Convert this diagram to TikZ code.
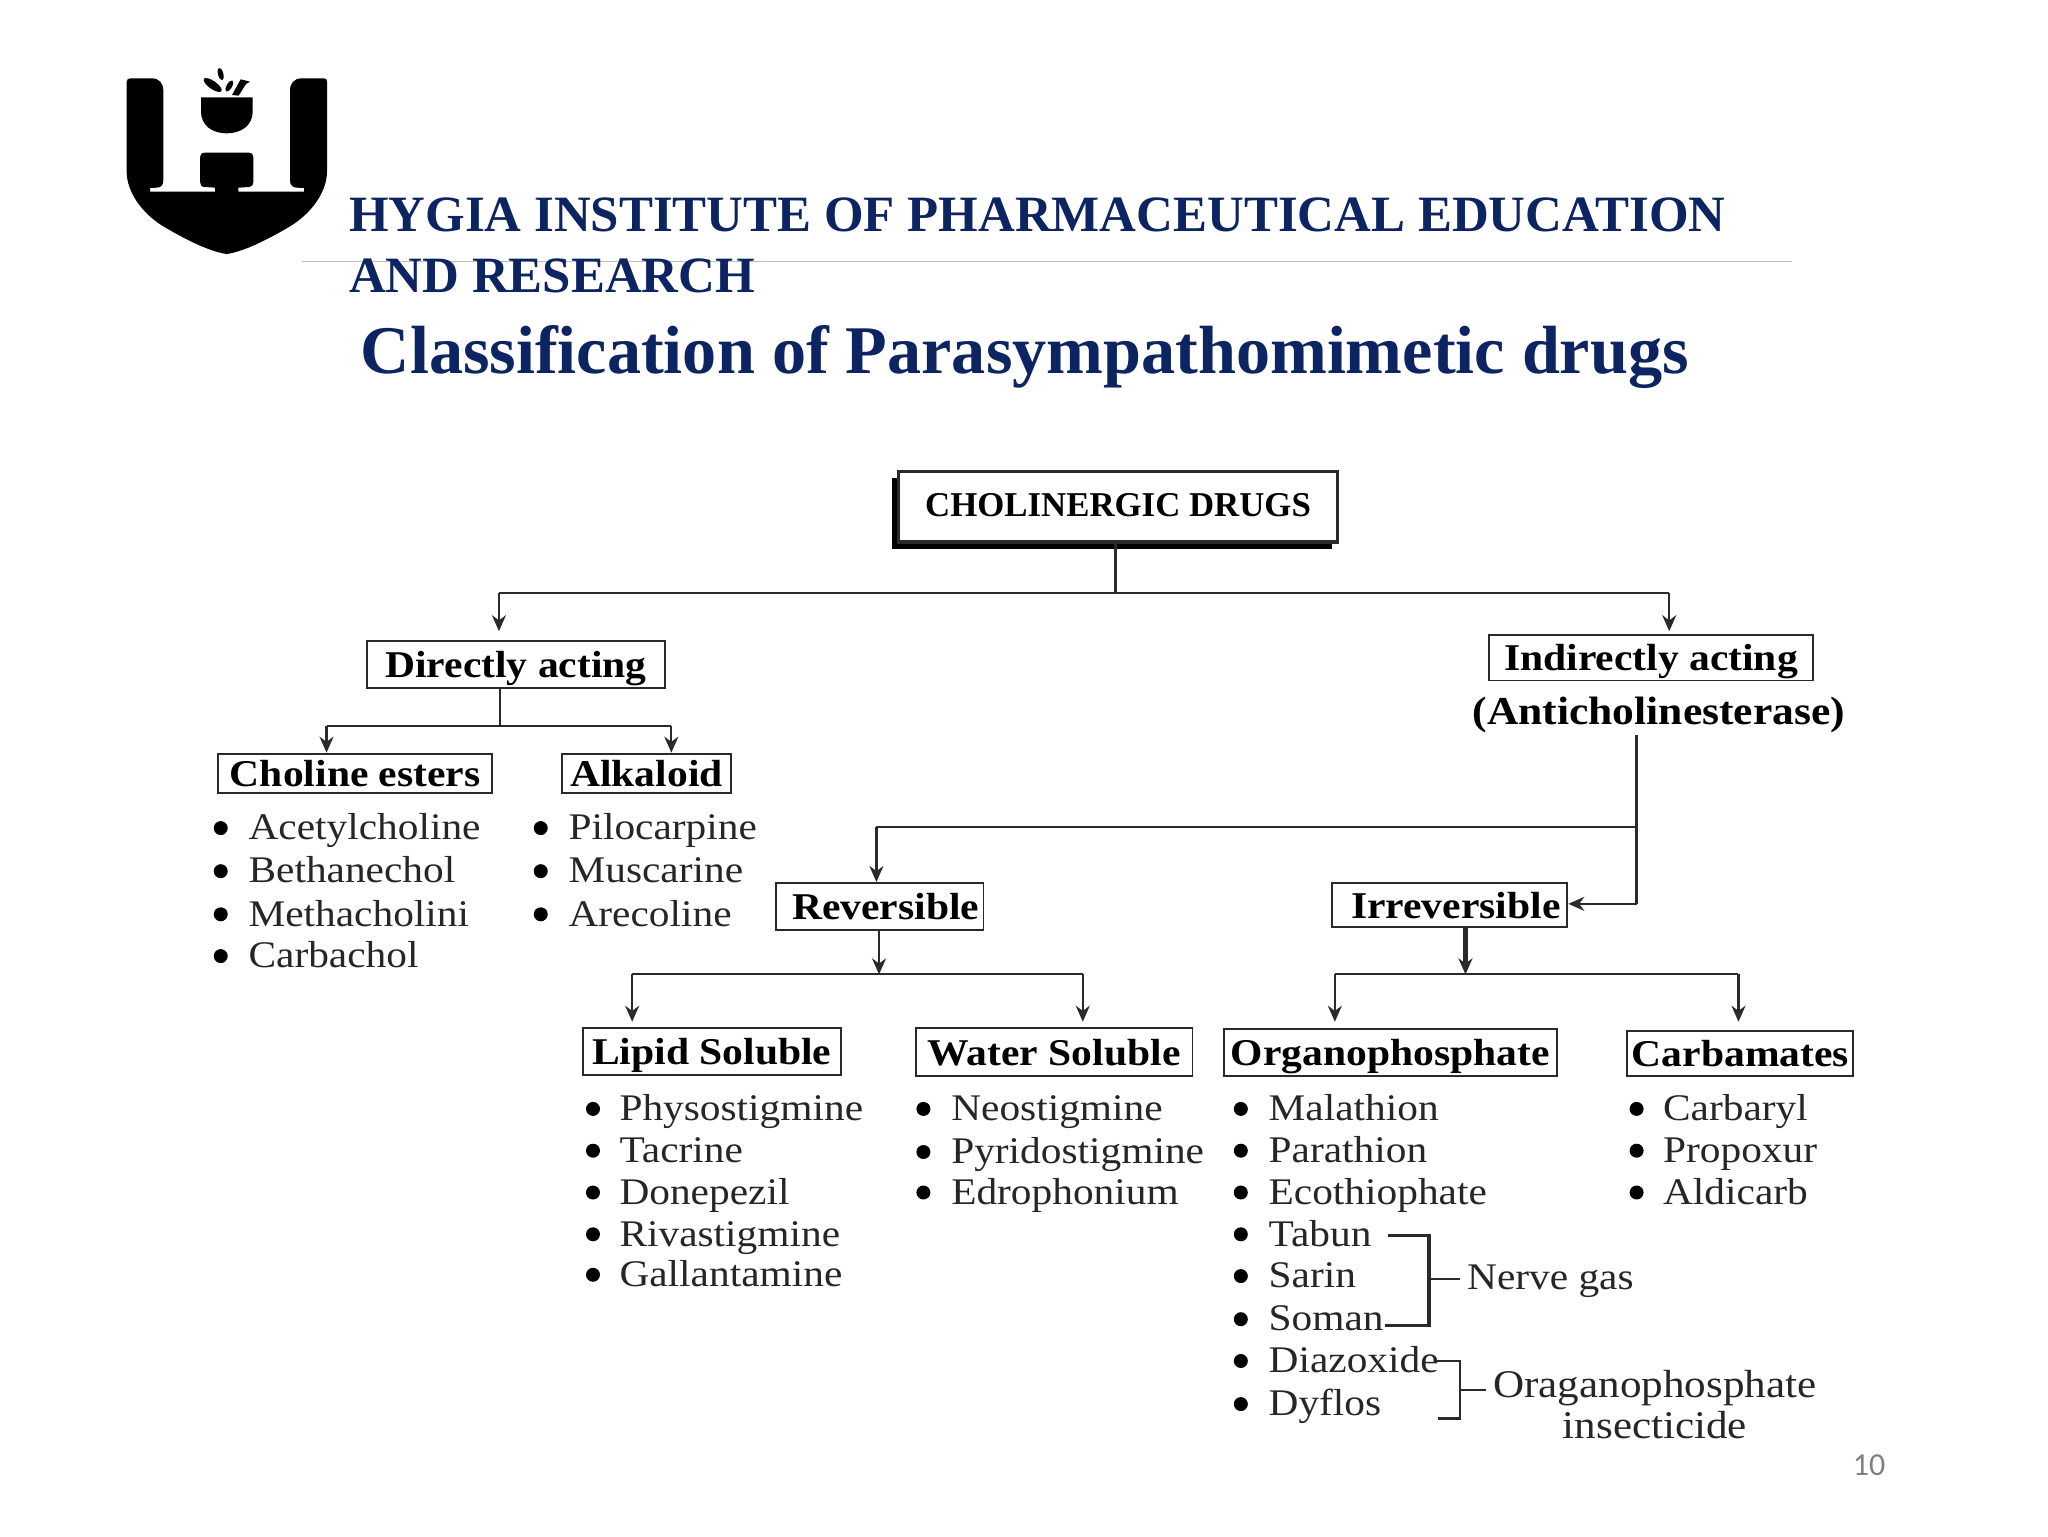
\documentclass[tikz,border=0pt]{standalone}
\usepackage{fontspec}
\setmainfont{Liberation Serif}
\newfontfamily\bodyfont{Liberation Serif}[FakeStretch=1.1]
\newfontfamily\numfont{Carlito}
\usetikzlibrary{arrows.meta,calc}
\definecolor{navy}{HTML}{0C2461}
\definecolor{rulegray}{HTML}{BFBFBF}
\definecolor{linegray}{HTML}{2A2A2A}
\tikzset{
  drugbox/.style={draw=linegray,line width=1.5pt*0.653,fill=white,inner sep=0pt,text height=15pt,text depth=2pt,font=\bodyfont\bfseries\fontsize{18.9}{21}\selectfont,text=black},
  conn/.style={draw=linegray,line width=1.7pt*0.653},
  arr/.style={conn,-{Stealth[length=8pt,width=7pt]}},
  itemtext/.style={anchor=base west,inner sep=0pt,font=\bodyfont\fontsize{18.8}{21}\selectfont,text=black!85},
  midtext/.style={anchor=base,inner sep=0pt,font=\bodyfont\fontsize{19.6}{21}\selectfont,text=black!85},
  bul/.style={circle,fill=black,inner sep=0pt,minimum size=7pt},
  headtext/.style={anchor=base west,inner sep=0pt,text=navy,font=\bfseries\fontsize{25.45}{27}\selectfont},
  titletext/.style={anchor=base west,inner sep=0pt,text=navy,font=\bfseries\fontsize{34.1}{36}\selectfont},
}
\newcommand{\drugbx}[7][]{% name x1 y1 x2 y2 text
  \pgfmathsetmacro{\cxx}{(#3+#5)/2}\pgfmathsetmacro{\cyy}{(#4+#6)/2}%
  \pgfmathsetmacro{\wid}{(#5-#3)*0.653}\pgfmathsetmacro{\hei}{(#6-#4)*0.653}%
  \node[drugbox,minimum width=\wid pt,minimum height=\hei pt,#1] (#2) at (\cxx,\cyy) {#7};}
\newcommand{\li}[5]{% name bulletx textx y text
  \node[bul] (#1b) at (#2,#4) {};
  \node[itemtext] (#1) at (#3,#4+9) {#5};}
\begin{document}
\begin{tikzpicture}[x=0.65306pt,y=-0.65306pt]
\useasboundingbox (0,0) rectangle (1568,1176);
\fill[white] (0,0) rectangle (1568,1176);
% logo
\begin{scope}[shift={(76.56,38.28)},x=0.16667pt,y=-0.16667pt]
\fill[black] (80,95) .. controls (80,88) and (85,85) .. (92,85) -- (155,85)
 .. controls (178,85) and (190,100) .. (190,122) -- (190,392)
 .. controls (190,405) and (182,413) .. (170,413) -- (150,414) -- (150,425) -- (345,425) -- (345,413) -- (315,411)
 .. controls (305,411) and (300,405) .. (300,396) -- (300,322)
 .. controls (300,313) and (305,308) .. (315,308) -- (447,308)
 .. controls (456,308) and (460,313) .. (460,322) -- (460,396)
 .. controls (460,405) and (456,411) .. (447,411) -- (415,413) -- (415,425) -- (612,425) -- (612,414) -- (590,413)
 .. controls (578,413) and (570,405) .. (570,392) -- (570,122)
 .. controls (570,100) and (582,85) .. (605,85) -- (672,85)
 .. controls (678,85) and (681,88) .. (681,95) -- (681,365)
 .. controls (681,420) and (640,490) .. (560,535)
 .. controls (500,570) and (430,605) .. (380,612)
 .. controls (330,605) and (260,570) .. (200,535)
 .. controls (120,490) and (80,420) .. (80,365) -- cycle;
\fill[black] (303,142) -- (458,142) -- (458,185) .. controls (458,225) and (425,250) .. (380,250)
 .. controls (335,250) and (303,225) .. (303,185) -- cycle;
\fill[black,rotate around={-35:(338,105)}] (338,105) ellipse (32 and 12);
\fill[black,rotate around={-75:(362,72)}] (362,72) ellipse (19 and 8);
\fill[black,rotate around={60:(388,108)}] (388,108) ellipse (19 and 8);
\fill[black] (396,135) -- (422,88) -- (450,95) -- (438,102) -- (416,137) -- cycle;
\end{scope}
% header
\draw[rulegray,line width=0.7pt] (231,200) -- (1372,200);
\node[headtext] (h1) at (267,177) {HYGIA INSTITUTE OF PHARMACEUTICAL EDUCATION};
\node[headtext] (h2) at (267,224) {AND RESEARCH};
\node[titletext] (title) at (276,286) {Classification of Parasympathomimetic drugs};
% top box with shadow
\fill[black] (683,366) rectangle (1020,420);
\drugbx[line width=1.6pt,font=\bfseries\fontsize{17.4}{19}\selectfont,text height=11pt,text depth=1pt]{top}{688}{361}{1024}{415}{CHOLINERGIC DRUGS}
% boxes
\drugbx{direct}{281}{491}{509}{527}{Directly acting}
\drugbx{indirect}{1140}{486}{1388}{521}{Indirectly acting}
\node[inner sep=0pt,anchor=base,font=\bodyfont\bfseries\fontsize{19.8}{22}\selectfont] (anti) at (1270,555) {(Anticholinesterase)};
\drugbx{choline}{167}{577}{377}{607}{Choline esters}
\drugbx{alk}{430}{577}{560}{607}{Alkaloid}
\drugbx{rev}{594}{676}{753}{712}{\hspace{6pt}Reversible}
\drugbx{irr}{1020}{676}{1200}{710}{\hspace{6pt}Irreversible}
\drugbx{lipid}{446}{787}{644}{823}{Lipid Soluble}
\drugbx{water}{701}{787}{913}{824}{Water Soluble}
\drugbx{organo}{937}{788}{1192}{824}{Organophosphate}
\drugbx{carb}{1246}{789}{1419}{824}{Carbamates}
% junction coordinates
\coordinate (j1) at (854,454);
\coordinate (j1l) at (382,454);
\coordinate (j1r) at (1278,454);
\coordinate (j2) at (383,556);
\coordinate (j2l) at (250,556);
\coordinate (j2r) at (514,556);
\coordinate (a1) at (1253,563);
\coordinate (a2) at (1253,633);
\coordinate (a3) at (671,633);
\coordinate (a4) at (1253,692);
\coordinate (r0) at (673,746);
\coordinate (rl) at (484,746);
\coordinate (rr) at (829,746);
\coordinate (i0) at (1122,746);
\coordinate (il) at (1022,746);
\coordinate (ir) at (1331,746);
% connectors
\draw[conn] (top.south -| j1) -- (j1);
\draw[conn] (j1l) -- (j1r);
\draw[arr] (j1l) -- ($(j1l |- direct.north)+(0,-7)$);
\draw[arr] (j1r) -- ($(j1r |- indirect.north)+(0,-2)$);
\draw[conn] (direct.south -| j2) -- (j2);
\draw[conn] (j2l) -- (j2r);
\draw[arr] (j2l) -- (j2l |- choline.north);
\draw[arr] (j2r) -- (j2r |- alk.north);
\draw[conn] (a1) -- (a4);
\draw[arr] (a4) -- (irr.east |- a4);
\draw[conn] (a2) -- (a3);
\draw[arr] (a3) -- (a3 |- rev.north);
\draw[arr] (rev.south -| r0) -- (r0);
\draw[conn] (rl) -- (rr);
\draw[arr] (rl) -- ($(rl |- lipid.north)+(0,-4)$);
\draw[arr] (rr) -- ($(rr |- water.north)+(0,-4)$);
\draw[conn,line width=2.2pt,-{Stealth[length=8pt,width=7pt]}] (irr.south -| i0) -- (i0);
\draw[conn] (il) -- (ir);
\draw[arr] (il) -- ($(il |- organo.north)+(0,-5)$);
\draw[arr] (ir) -- ($(ir |- carb.north)+(0,-6)$);
% lists
\li{ch1}{169}{190}{634}{Acetylcholine}
\li{ch2}{169}{190}{667}{Bethanechol}
\li{ch3}{169}{190}{700}{Methacholini}
\li{ch4}{169}{190}{732}{Carbachol}
\li{al1}{414}{435}{634}{Pilocarpine}
\li{al2}{414}{435}{667}{Muscarine}
\li{al3}{414}{435}{700}{Arecoline}
\li{li1}{454}{474}{849}{Physostigmine}
\li{li2}{454}{474}{881}{Tacrine}
\li{li3}{454}{474}{913}{Donepezil}
\li{li4}{454}{474}{945}{Rivastigmine}
\li{li5}{454}{474}{976}{Gallantamine}
\li{wa1}{707}{728}{849}{Neostigmine}
\li{wa2}{707}{728}{882}{Pyridostigmine}
\li{wa3}{707}{728}{913}{Edrophonium}
\li{or1}{950}{971}{849}{Malathion}
\li{or2}{950}{971}{881}{Parathion}
\li{or3}{950}{971}{913}{Ecothiophate}
\li{or4}{950}{971}{945}{Tabun}
\li{or5}{950}{971}{977}{Sarin}
\li{or6}{950}{971}{1010}{Soman}
\li{or7}{950}{971}{1042}{Diazoxide}
\li{or8}{950}{971}{1075}{Dyflos}
\li{ca1}{1253}{1273}{849}{Carbaryl}
\li{ca2}{1253}{1273}{881}{Propoxur}
\li{ca3}{1253}{1273}{913}{Aldicarb}
% brackets
\node[itemtext] (nerve) at (1123,987) {Nerve gas};
\node[midtext] (ora) at (1267,1070) {Oraganophosphate};
\node[midtext] (ins) at (1267,1101) {insecticide};
\coordinate (b1a) at (1063,946);
\coordinate (b1b) at (1094,946);
\coordinate (b1c) at (1094,1015);
\coordinate (b1d) at (1060,1015);
\coordinate (b1e) at (1094,979);
\coordinate (b2a) at (1100,1042);
\coordinate (b2b) at (1118,1042);
\coordinate (b2c) at (1118,1086);
\coordinate (b2d) at (1101,1086);
\coordinate (b2e) at (1118,1064);
\draw[conn,line width=1.6pt] (b1a) -- (b1b) -- (b1c) -- (b1d);
\draw[conn] (b1e) -- ($(nerve.west |- b1e)+(-5,0)$);
\draw[conn] (b2a) -- (b2b) -- (b2c) -- (b2d);
\draw[conn] (b2e) -- ($(ora.west |- b2e)+(-5,0)$);
% page number
\node[inner sep=0pt,anchor=base,text=black!50,font=\numfont\fontsize{16}{18}\selectfont] (pg) at (1431,1130) {10};
\end{tikzpicture}
\end{document}
